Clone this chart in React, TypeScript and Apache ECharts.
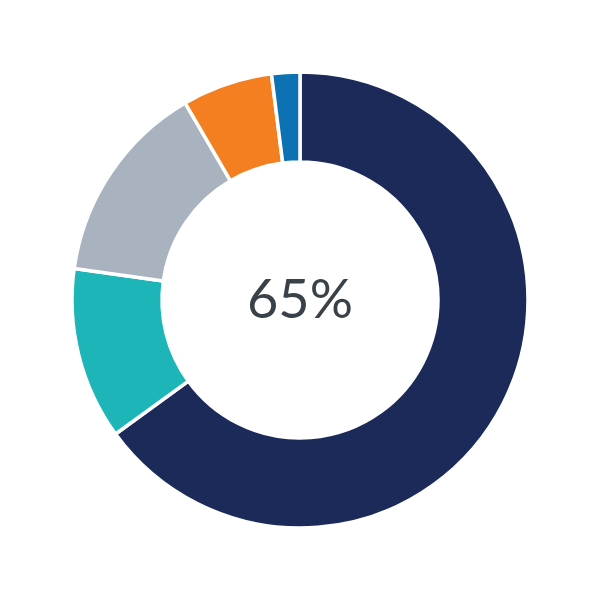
import React, { useEffect, useRef } from "react";
import * as echarts from "echarts";

const categories = ["A", "B", "C", "D", "E"];
const values = [65, 12.2, 14.4, 6.4, 2];
const colors = ["#1c2a5a", "#1db5b8", "#a9b3c0", "#f37f20", "#0d72b3"];
const centerLabel = "65%";

export default function App() {
  const ref = useRef<HTMLDivElement>(null);
  useEffect(() => {
    const chart = echarts.init(ref.current!, null, { renderer: "svg" });
    chart.setOption({
      animation: false,
      series: [
        {
          type: "pie",
          radius: [138, 228],
          center: [300, 300],
          startAngle: 90,
          clockwise: true,
          label: { show: false },
          labelLine: { show: false },
          itemStyle: { borderColor: "#ffffff", borderWidth: 3.5 },
          emphasis: { disabled: true },
          data: categories.map((c, i) => ({
            name: c,
            value: values[i],
            itemStyle: { color: colors[i] },
          })),
        },
      ],
      graphic: [
        {
          type: "text",
          x: 300,
          y: 297,
          style: {
            text: centerLabel,
            font: "400 54px Lato",
            fill: "#3a4249",
            textAlign: "center",
            textVerticalAlign: "middle",
          },
        },
      ],
    });
    return () => chart.dispose();
  }, []);
  return (
    <div
      ref={ref}
      style={{ position: "fixed", left: 0, top: 0, width: 600, height: 600, background: "#fff" }}
    />
  );
}
